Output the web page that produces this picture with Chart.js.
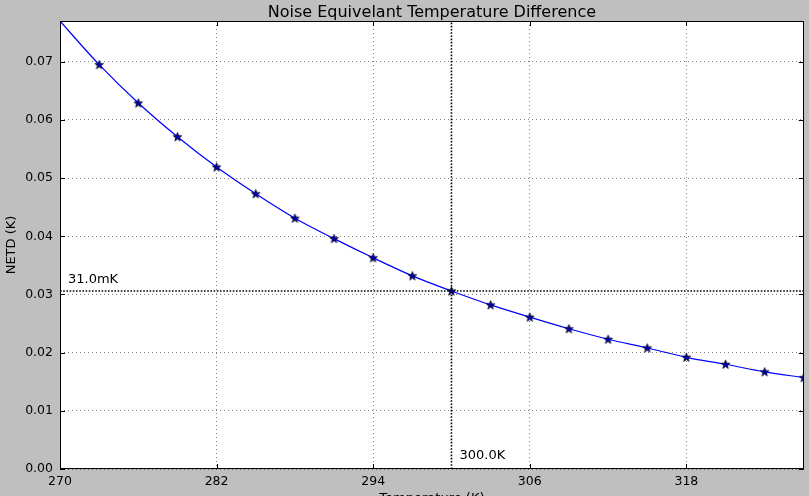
<!DOCTYPE html>
<html>
<head>
<meta charset="utf-8">
<script src="https://cdn.jsdelivr.net/npm/chart.js@4"></script>
<style>
html,body{margin:0;padding:0;background:#bfbfbf;}
#wrap{width:809px;height:496px;}
</style>
</head>
<body>
<div id="wrap"><canvas id="c" width="809" height="496"></canvas></div>
<script>
// ---- data ----
const temps = [270, 273, 276, 279, 282, 285, 288, 291, 294, 297, 300, 303, 306, 309, 312, 315, 318, 321, 324, 327];
const netd  = [0.0770, 0.0695, 0.0629, 0.0571, 0.0519, 0.0473, 0.0431, 0.0396, 0.0363, 0.0332, 0.0306, 0.0282, 0.0261, 0.0241, 0.0223, 0.0208, 0.0192, 0.0180, 0.0167, 0.0157];
const xTicks = [270, 282, 294, 306, 318];
const yTicks = [0.00, 0.01, 0.02, 0.03, 0.04, 0.05, 0.06, 0.07];
const refTemp = 300;
const refNetd = 0.0306;
const refTempLabel = "300.0K";
const refNetdLabel = "31.0mK";
const titleText = "Noise Equivelant Temperature Difference";
const xLabel = "Temperature (K)";
const yLabel = "NETD (K)";

const xMin = temps[0], xMax = temps[temps.length - 1];
const yMin = 0, yMax = Math.max(...netd);

// star marker image
function makeStar() {
  const c = document.createElement('canvas');
  c.width = 11; c.height = 11;
  const g = c.getContext('2d');
  g.beginPath();
  const cx = 5.5, cy = 5.8, R = 4.6, r = 1.9;
  for (let i = 0; i < 10; i++) {
    const a = -Math.PI / 2 + i * Math.PI / 5;
    const rad = i % 2 === 0 ? R : r;
    const px = cx + rad * Math.cos(a), py = cy + rad * Math.sin(a);
    if (i === 0) g.moveTo(px, py); else g.lineTo(px, py);
  }
  g.closePath();
  g.fillStyle = '#0000b0';
  g.fill();
  g.lineWidth = 0.8;
  g.strokeStyle = '#000020';
  g.stroke();
  return c;
}
const star = makeStar();

const FONT = "'DejaVu Sans', sans-serif";

const decor = {
  id: 'decor',
  beforeDraw(chart) {
    const ctx = chart.ctx, a = chart.chartArea;
    ctx.save();
    ctx.fillStyle = '#bfbfbf';
    ctx.fillRect(0, 0, chart.width, chart.height);
    ctx.fillStyle = '#ffffff';
    ctx.fillRect(a.left, a.top, a.right - a.left, a.bottom - a.top);
    ctx.restore();
  },
  afterDraw(chart) {
    const ctx = chart.ctx, a = chart.chartArea;
    const xs = chart.scales.x, ys = chart.scales.y;
    ctx.save();
    // frame
    ctx.strokeStyle = '#000';
    ctx.lineWidth = 1;
    ctx.strokeRect(Math.round(a.left) + 0.5, Math.round(a.top) + 0.5, Math.round(a.right - a.left) - 1, Math.round(a.bottom - a.top) - 1);
    // inward ticks
    ctx.beginPath();
    xTicks.forEach(v => {
      const px = Math.round(xs.getPixelForValue(v)) + 0.5;
      ctx.moveTo(px, a.bottom); ctx.lineTo(px, a.bottom - 5);
      ctx.moveTo(px, a.top); ctx.lineTo(px, a.top + 5);
    });
    yTicks.forEach(v => {
      const py = Math.round(ys.getPixelForValue(v)) + 0.5;
      ctx.moveTo(a.left, py); ctx.lineTo(a.left + 5, py);
      ctx.moveTo(a.right, py); ctx.lineTo(a.right - 5, py);
    });
    ctx.stroke();
    // annotations
    ctx.fillStyle = '#000';
    ctx.font = '13px ' + FONT;
    ctx.textAlign = 'left';
    ctx.textBaseline = 'alphabetic';
    ctx.fillText(refNetdLabel, xs.getPixelForValue(xMin) + 8, ys.getPixelForValue(refNetd) - 8);
    ctx.fillText(refTempLabel, xs.getPixelForValue(refTemp) + 8, a.bottom - 10);
    // title
    ctx.font = '16px ' + FONT;
    ctx.textAlign = 'center';
    ctx.textBaseline = 'alphabetic';
    ctx.fillText(titleText, (a.left + a.right) / 2, 17);
    // x label (partly cut off at bottom)
    ctx.font = '13px ' + FONT;
    ctx.textBaseline = 'top';
    ctx.fillText(xLabel, (a.left + a.right) / 2, 492.5);
    // y label
    ctx.translate(12, (a.top + a.bottom) / 2);
    ctx.rotate(-Math.PI / 2);
    ctx.textBaseline = 'middle';
    ctx.fillText(yLabel, 0, 0);
    ctx.restore();
  }
};

new Chart(document.getElementById('c'), {
  type: 'line',
  data: {
    datasets: [
      {
        label: 'NETD',
        data: temps.map((t, i) => ({ x: t, y: netd[i] })),
        borderColor: '#0000ff',
        borderWidth: 1.2,
        pointStyle: star,
        pointRadius: ctx => ctx.dataIndex === 0 ? 0 : 4,
        cubicInterpolationMode: 'monotone',
        clip: 0,
        order: 2
      },
      {
        label: 'refT',
        data: [{ x: refTemp, y: yMin }, { x: refTemp, y: yMax }],
        borderColor: '#000',
        borderWidth: 1.6,
        borderDash: [1.6, 1.6],
        pointRadius: 0,
        clip: 0,
        order: 1
      },
      {
        label: 'refN',
        data: [{ x: xMin, y: refNetd }, { x: xMax, y: refNetd }],
        borderColor: '#000',
        borderWidth: 1.6,
        borderDash: [1.6, 1.6],
        pointRadius: 0,
        clip: 0,
        order: 1
      }
    ]
  },
  options: {
    responsive: false,
    animation: false,
    devicePixelRatio: 1,
    layout: { padding: { top: 21, right: 5, left: 0, bottom: 0 } },
    plugins: { legend: { display: false }, tooltip: { enabled: false }, title: { display: false } },
    elements: { line: { tension: 0 } },
    scales: {
      x: {
        type: 'linear',
        min: xMin, max: xMax,
        afterFit: s => { s.height = 27; },
        afterBuildTicks: s => { s.ticks = xTicks.map(v => ({ value: v })); },
        ticks: { color: '#000', font: { family: FONT, size: 12.5 }, padding: 5, maxRotation: 0, callback: v => String(v) },
        grid: { color: 'rgba(0,0,0,0.5)', lineWidth: 1, drawTicks: false },
        border: { display: false, dash: [1, 3] }
      },
      y: {
        type: 'linear',
        min: yMin, max: yMax,
        afterFit: s => { s.width = 60; },
        afterBuildTicks: s => { s.ticks = yTicks.map(v => ({ value: v })); },
        ticks: { color: '#000', font: { family: FONT, size: 12.5 }, padding: 7, callback: v => v.toFixed(2) },
        grid: { color: 'rgba(0,0,0,0.5)', lineWidth: 1, drawTicks: false },
        border: { display: false, dash: [1, 3] }
      }
    }
  },
  plugins: [decor]
});
</script>
</body>
</html>
